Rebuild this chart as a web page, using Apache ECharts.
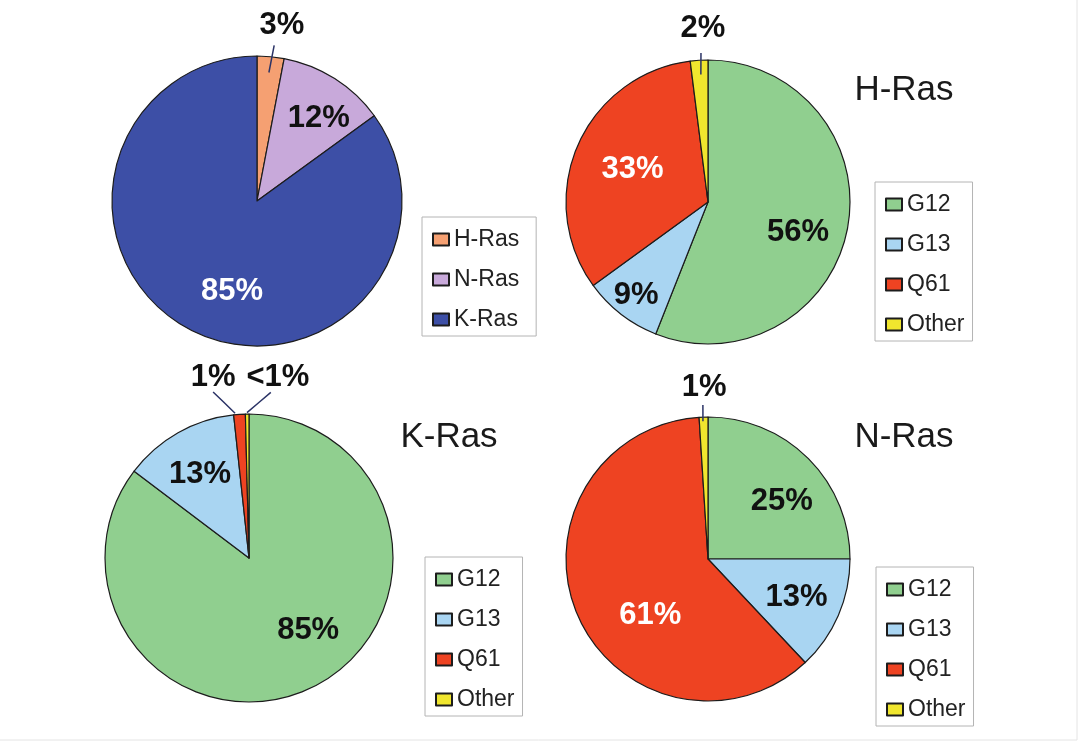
<!DOCTYPE html>
<html>
<head>
<meta charset="utf-8">
<title>Ras mutations</title>
<script src="https://cdn.jsdelivr.net/npm/echarts@6/dist/echarts.min.js"></script>
<style>
  html, body { margin: 0; padding: 0; background: #fff; }
  #chart { width: 1080px; height: 741px; }
</style>
</head>
<body>
<div id="chart"></div>
<script>
// data
var rasNames = ["H-Ras", "N-Ras", "K-Ras"];
var rasValues = [3, 12, 85];
var rasLabels = ["3%", "12%", "85%"];

var mutNames = ["G12", "G13", "Q61", "Other"];
var hrasValues = [56, 9, 33, 2];
var hrasLabels = ["56%", "9%", "33%", "2%"];
var krasValues = [85.3, 13, 1.3, 0.4];
var krasLabels = ["85%", "13%", "1%", "<1%"];
var nrasValues = [25, 13, 61, 1];
var nrasLabels = ["25%", "13%", "61%", "1%"];

var colors = {
  "H-Ras": "#f5a072",
  "N-Ras": "#c8a9da",
  "K-Ras": "#3d4fa6",
  G12: "#90cf8f",
  G13: "#a9d5f2",
  Q61: "#ee4322",
  Other: "#f0e62e"
};
var whiteText = { "K-Ras": true, Q61: true };

var FONT = "'Liberation Sans', Arial, Helvetica, sans-serif";

// label placement: [angle from 12 o'clock (deg), distance / radius]
// line: [[angle, dist], [angle, dist]] for the small outside slices
var pies = [
  {
    names: rasNames, values: rasValues, labels: rasLabels,
    center: [257, 201], r: 145,
    place: [[8.1, 1.22], [36.8, 0.71], [195.4, 0.65]],
    lines: { 0: [[6.3, 1.08], [5.3, 0.89]] }
  },
  {
    names: mutNames, values: hrasValues, labels: hrasLabels,
    center: [708, 202], r: 142,
    place: [[108.7, 0.67], [217.6, 0.83], [293.5, 0.58], [358.3, 1.22]],
    lines: { 3: [[357.3, 1.05], [356.8, 0.9]] }
  },
  {
    names: mutNames, values: krasValues, labels: krasLabels,
    center: [249, 558], r: 144,
    place: [[140.8, 0.65], [329.7, 0.675], [348.8, 1.28], [9.1, 1.27]],
    lines: {
      2: [[347.8, 1.18], [354.5, 1.01]],
      3: [[7.5, 1.16], [359.2, 1.01]]
    }
  },
  {
    names: mutNames, values: nrasValues, labels: nrasLabels,
    center: [708, 559], r: 142,
    place: [[51.9, 0.66], [113.4, 0.68], [225.5, 0.57], [358.7, 1.21]],
    lines: { 3: [[358.1, 1.085], [357.9, 0.97]] }
  }
];

function polar(p, a, f) {
  var rad = a * Math.PI / 180;
  return [p.center[0] + f * p.r * Math.sin(rad), p.center[1] - f * p.r * Math.cos(rad)];
}

// the coloured slices
function pieSeries(p) {
  return {
    type: "pie",
    z: 2,
    center: p.center,
    radius: [0, p.r],
    startAngle: 90,
    clockwise: true,
    silent: true,
    itemStyle: { borderColor: "#1c1c1c", borderWidth: 1.2 },
    label: { show: false },
    labelLine: { show: false },
    data: p.names.map(function(n, i) {
      return { name: n, value: p.values[i], itemStyle: { color: colors[n] } };
    })
  };
}

// same pie, transparent, drawn on top so labels and leader lines sit over the slices
function labelSeries(p) {
  return {
    type: "pie",
    z: 5,
    center: p.center,
    radius: [0, p.r],
    startAngle: 90,
    clockwise: true,
    avoidLabelOverlap: false,
    silent: true,
    itemStyle: { color: "rgba(0,0,0,0)", borderWidth: 0 },
    label: {
      show: true,
      position: "inside",
      fontFamily: FONT,
      fontSize: 31,
      fontWeight: "bold"
    },
    labelLine: {
      show: true,
      length: 12,
      length2: 0,
      lineStyle: { color: "#2b3366", width: 1.5 }
    },
    labelLayout: function(params) {
      var i = params.dataIndex;
      var pos = polar(p, p.place[i][0], p.place[i][1]);
      var out = { x: pos[0], y: pos[1], align: "center", verticalAlign: "middle" };
      var ln = p.lines[i];
      if (ln) {
        var a = polar(p, ln[0][0], ln[0][1]);
        var b = polar(p, ln[1][0], ln[1][1]);
        out.labelLinePoints = [a, [(a[0] + b[0]) / 2, (a[1] + b[1]) / 2], b];
      }
      return out;
    },
    data: p.names.map(function(n, i) {
      var outside = !!p.lines[i];
      return {
        name: n,
        value: p.values[i],
        label: {
          formatter: p.labels[i],
          position: outside ? "outside" : "inside",
          color: whiteText[n] && !outside ? "#fff" : "#111"
        },
        labelLine: { show: outside }
      };
    })
  };
}

function buildLegend(names, left, top, padRight) {
  return {
    orient: "vertical",
    left: left,
    top: top,
    data: names,
    icon: "rect",
    itemWidth: 16,
    itemHeight: 12,
    itemGap: 17,
    padding: [11, padRight, 5, 10],
    backgroundColor: "#fff",
    borderColor: "#b4b4b4",
    borderWidth: 1,
    selectedMode: false,
    textStyle: { fontFamily: FONT, fontSize: 23, lineHeight: 22, color: "#222" }
  };
}

function titleText(text, x, y) {
  return {
    type: "text",
    x: x,
    y: y,
    style: {
      text: text,
      align: "center",
      verticalAlign: "middle",
      font: "35px " + FONT,
      fill: "#1a1a1a"
    }
  };
}

var chart = echarts.init(document.getElementById("chart"), null, { renderer: "canvas" });
chart.setOption({
  backgroundColor: "#fff",
  animation: false,
  legend: [
    buildLegend(rasNames, 422, 217, 17),
    buildLegend(mutNames, 875, 182, 8),
    buildLegend(mutNames, 425, 557, 8),
    buildLegend(mutNames, 876, 567, 8)
  ],
  graphic: [
    titleText("H-Ras", 904, 90),
    titleText("K-Ras", 449, 437),
    titleText("N-Ras", 904, 437),
    // faint frame of the original image
    { type: "line", shape: { x1: 1077, y1: 0, x2: 1077, y2: 740 }, style: { stroke: "#e4e4e4", lineWidth: 1 } },
    { type: "line", shape: { x1: 0, y1: 740, x2: 1077, y2: 740 }, style: { stroke: "#e4e4e4", lineWidth: 1 } }
  ],
  series: pies.map(pieSeries).concat(pies.map(labelSeries))
});
</script>
</body>
</html>
